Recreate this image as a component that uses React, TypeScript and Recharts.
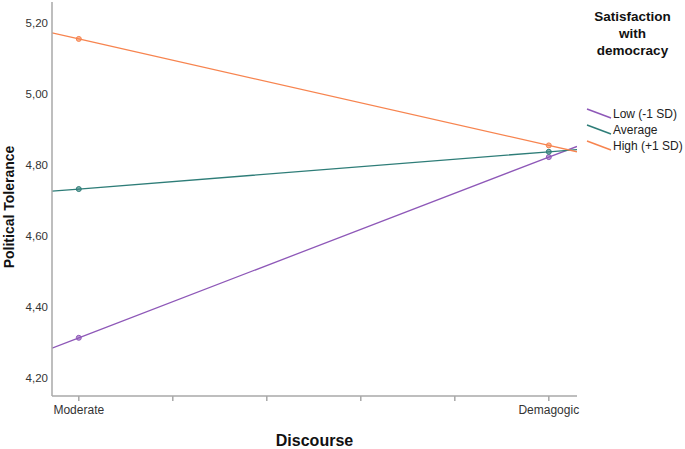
import { LineChart, Line, XAxis, YAxis, Label } from 'recharts';

// x positions: left plot edge, Moderate (0), Demagogic (1), right plot edge
const xPos = [-0.057, 0, 1, 1.06];
const low = [4.284, 4.313, 4.822, 4.852];
const average = [4.726, 4.732, 4.837, 4.843];
const high = [5.172, 5.155, 4.855, 4.837];

const xTicks = [0, 0.2, 0.4, 0.6, 0.8, 1];
const xTickNames: Record<number, string> = { 0: 'Moderate', 1: 'Demagogic' };
const yTicks = [4.2, 4.4, 4.6, 4.8, 5.0, 5.2];

const seriesNames = ['Low (-1 SD)', 'Average', 'High (+1 SD)'];
const seriesKeys = ['low', 'average', 'high'];
const seriesColors = ['#8e58b8', '#2e7d78', '#f7844f'];

const data = xPos.map((x, i) => ({ x, low: low[i], average: average[i], high: high[i] }));

const FONT = '"Liberation Sans", Arial, sans-serif';

const makeDot = (color: string) => (ctx: any) => {
  const { cx, cy, index } = ctx;
  if (index === 1 || index === 2) {
    return <circle key={index} cx={cx} cy={cy} r={2.5} fill={color} fillOpacity={0.6} stroke={color} strokeWidth={1} />;
  }
  return <g key={index} />;
};

const LegendBox = () => (
  <div style={{ position: 'absolute', left: 580, top: 8, width: 105, fontFamily: FONT }}>
    <div style={{ fontWeight: 'bold', fontSize: 13.5, textAlign: 'center', lineHeight: '17px', color: '#111' }}>
      Satisfaction<br />with<br />democracy
    </div>
    <div style={{ marginTop: 47, marginLeft: 6 }}>
      {seriesNames.map((name, i) => (
        <div key={name} style={{ display: 'flex', alignItems: 'center', height: 16, fontSize: 12, color: '#222' }}>
          <svg width={26} height={14} style={{ marginRight: 1 }}>
            <line x1={1} y1={2} x2={25} y2={11} stroke={seriesColors[i]} strokeWidth={1.5} />
          </svg>
          <span>{name}</span>
        </div>
      ))}
    </div>
  </div>
);

export default function App() {
  return (
    <div style={{ position: 'absolute', left: 0, top: 0, width: 685, height: 449, background: '#fff' }}>
      <LineChart width={685} height={449} data={data} margin={{ top: 2, right: 108, left: 0, bottom: 0 }}>
        <XAxis
          dataKey="x"
          type="number"
          domain={[-0.057, 1.06]}
          ticks={xTicks}
          tickFormatter={(v: number) => xTickNames[v] ?? ''}
          allowDataOverflow
          height={53}
          stroke="#a8a8a8"
          strokeWidth={1.5}
          tickSize={5}
          tickMargin={4}
          tick={{ fill: '#333', fontSize: 12, fontFamily: FONT }}
        >
          <Label value="Discourse" position="insideBottom" offset={0} dy={-3} style={{ fontFamily: FONT, fontWeight: 'bold', fontSize: 16, fill: '#111' }} />
        </XAxis>
        <YAxis
          type="number"
          domain={[4.149, 5.259]}
          ticks={yTicks}
          allowDataOverflow
          width={52}
          stroke="#a8a8a8"
          strokeWidth={1.5}
          tickLine={false}
          tickSize={2}
          tickMargin={2}
          tickFormatter={(v: number) => v.toFixed(2).replace('.', ',')}
          tick={{ fill: '#333', fontSize: 11.5, fontFamily: FONT }}
        >
          <Label
            content={() => (
              <text x={10} y={207} transform="rotate(-90 10 207)" textAnchor="middle" dominantBaseline="middle"
                style={{ fontFamily: FONT, fontWeight: 'bold', fontSize: 14, fill: '#111' }}>
                Political Tolerance
              </text>
            )}
          />
        </YAxis>
        {seriesKeys.map((k, i) => (
          <Line key={k} name={seriesNames[i]} dataKey={k} stroke={seriesColors[i]} strokeWidth={1.3}
            dot={makeDot(seriesColors[i])} activeDot={false} isAnimationActive={false} />
        ))}
      </LineChart>
      <LegendBox />
    </div>
  );
}
